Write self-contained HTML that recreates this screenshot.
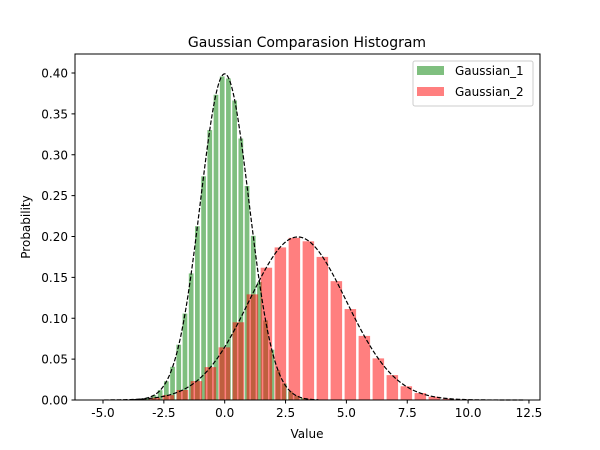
<!DOCTYPE html>
<html><head><meta charset="utf-8"><style>body{margin:0;background:#fff}svg{display:block;font-family:"DejaVu Sans","Liberation Sans",sans-serif}</style></head>
<body>
<svg id="s" width="600" height="450" xmlns="http://www.w3.org/2000/svg">
<rect width="600" height="450" fill="#fff"/>
<g id="bars"></g>
<g id="curves"></g>
<rect x="75" y="54" width="465" height="346" fill="none" stroke="#000" stroke-width="1"/>
<g id="ticks" font-size="12" fill="#000"></g>
<text x="307" y="47" font-size="14" text-anchor="middle">Gaussian Comparasion Histogram</text>
<text x="307" y="438" font-size="12" text-anchor="middle">Value</text>
<text transform="translate(30,227) rotate(-90)" font-size="12" text-anchor="middle">Probability</text>
<rect x="413" y="61" width="120" height="45" rx="2" fill="#fff" fill-opacity="0.8" stroke="#ccc"/>
<rect x="417" y="66" width="27" height="9" fill="#008000" fill-opacity="0.5"/>
<rect x="417" y="87" width="27" height="9" fill="#ff0000" fill-opacity="0.5"/>
<text x="455" y="75" font-size="12">Gaussian_1</text>
<text x="455" y="96" font-size="12">Gaussian_2</text>
</svg>
<script>
var NS="http://www.w3.org/2000/svg";
function X(v){return 224.7+v*24.34}
function Y(v){return 400-v*817.5}
function pdf(x,m,s){return Math.exp(-(x-m)*(x-m)/(2*s*s))/(s*Math.sqrt(2*Math.PI))}
function el(p,t,a){var e=document.createElementNS(NS,t);for(var k in a)e.setAttribute(k,a[k]);p.appendChild(e);return e}
var bars=document.getElementById("bars"),cur=document.getElementById("curves"),tk=document.getElementById("ticks");
function hist(start,w,n,m,s,col,gap){
 for(var i=0;i<n;i++){var a=start+i*w;
  var h=0;for(var j=0;j<10;j++)h+=pdf(a+w*(j+.5)/10,m,s);h/=10;
  var x1=X(a),x2=X(a+w);
  el(bars,"rect",{x:x1+gap/2,y:Y(h),width:Math.max(0,x2-x1-gap),height:400-Y(h),fill:col,"fill-opacity":0.5});
 }}
hist(-3.8,0.255,30,0,1,"#008000",1.5);
hist(-4.9,0.575,30,3,2,"#ff0000",2.5);
function curve(m,s,a,b){var d="";for(var i=0;i<=300;i++){var x=a+(b-a)*i/300;d+=(i?"L":"M")+X(x).toFixed(2)+","+Y(pdf(x,m,s)).toFixed(2)}
 el(cur,"path",{d:d,fill:"none",stroke:"#000","stroke-width":1.2,"stroke-dasharray":"4.4,1.9"})}
curve(0,1,-3.8,3.85);curve(3,2,-4.95,12.3);
[-5,-2.5,0,2.5,5,7.5,10,12.5].forEach(function(v){var x=X(v);el(tk,"line",{x1:x,x2:x,y1:400,y2:403.5,stroke:"#000"});var t=el(tk,"text",{x:x,y:417,"text-anchor":"middle"});t.textContent=v.toFixed(1)});
for(var i=0;i<=8;i++){var v=i*0.05,y=Y(v);el(tk,"line",{x1:71.5,x2:75,y1:y,y2:y,stroke:"#000"});var t=el(tk,"text",{x:68,y:y+4.5,"text-anchor":"end"});t.textContent=v.toFixed(2)}
</script>
</body></html>
